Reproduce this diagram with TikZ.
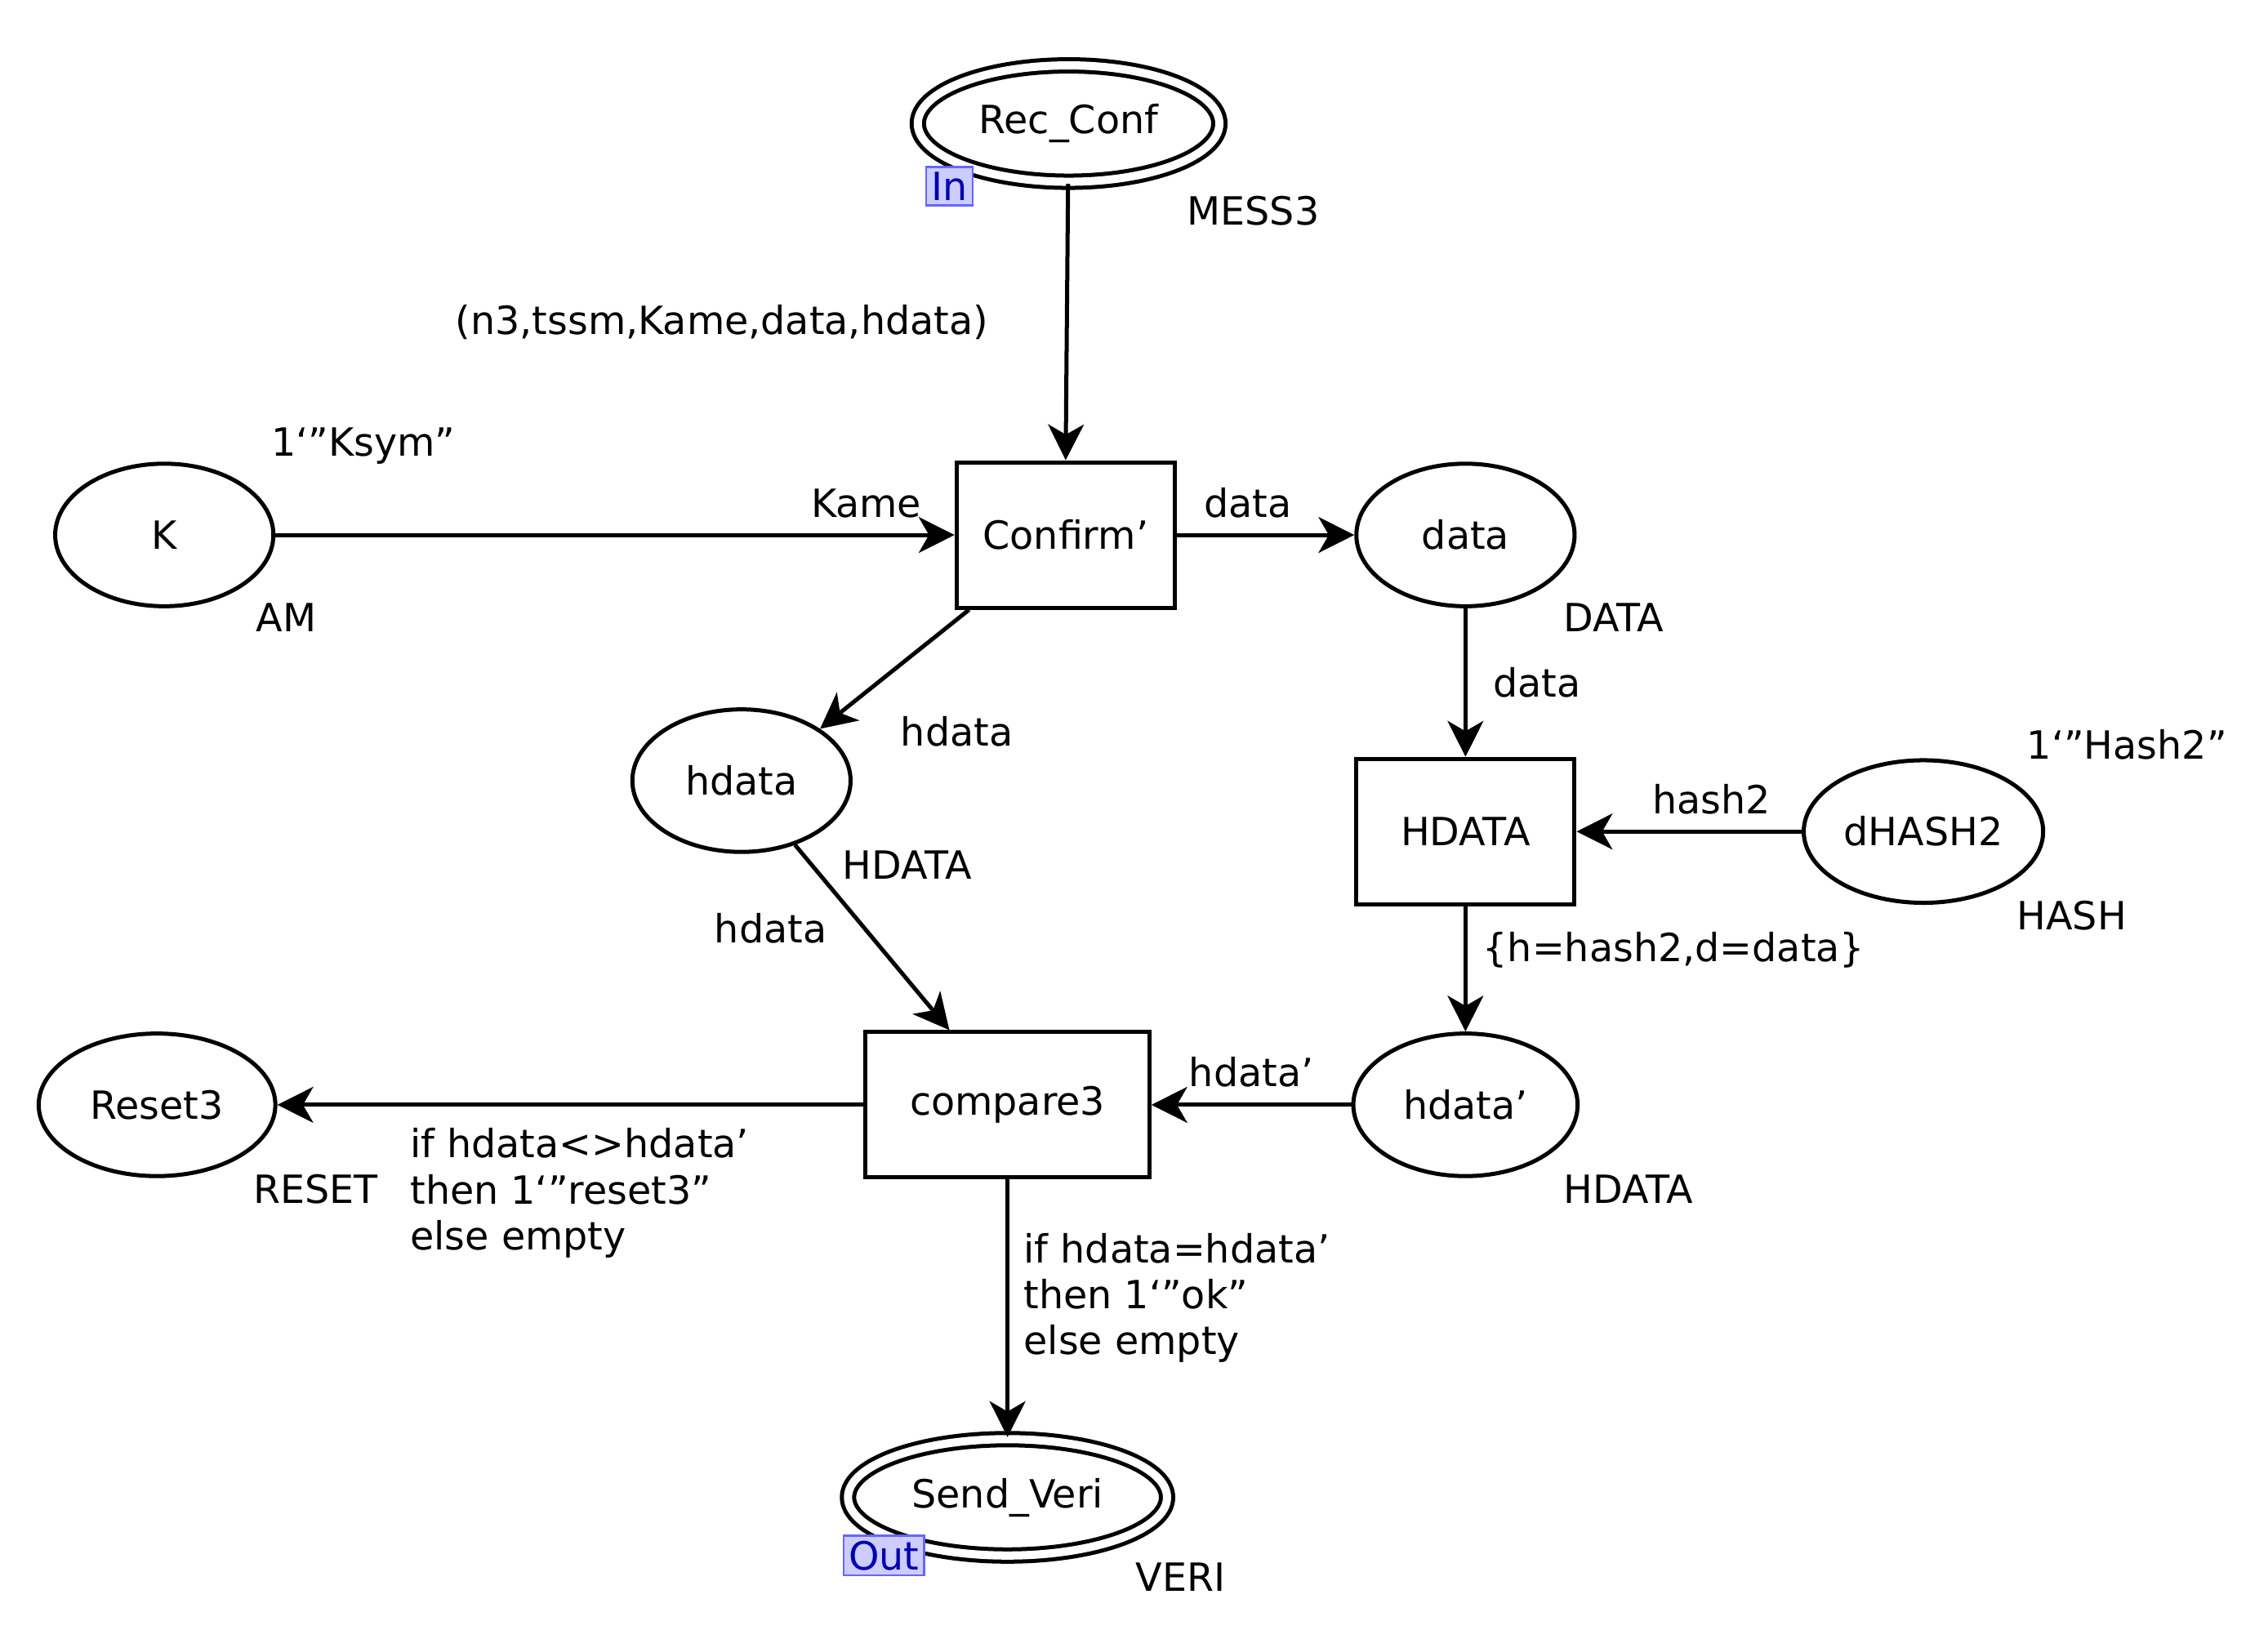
\documentclass[tikz,border=0pt]{standalone}
\usepackage{fontspec}
\setmainfont{DejaVu Sans}
\usetikzlibrary{arrows.meta,shapes.geometric}
\newcommand{\bq}{\symbol{96}}
\newcommand{\dq}{\symbol{34}}
\newcommand{\sq}{\symbol{39}}

\begin{document}
\begin{tikzpicture}[x=0.01cm,y=-0.01cm,
  every node/.style={font=\fontsize{7.6}{9}\selectfont},
  place/.style={draw, thick, ellipse, minimum width=1.5cm, minimum height=0.98cm},
  port_place/.style={place, double, double distance=1.6pt, minimum width=1.95cm, minimum height=0.8cm},
  trans/.style={draw, thick, rectangle, minimum width=1.5cm, minimum height=1cm},
  wide_trans/.style={trans, minimum width=1.95cm},
  tag/.style={draw=blue!60, fill=blue!20, text=blue!70!black, inner sep=1pt},
  lbl/.style={inner sep=1pt},
  arc/.style={draw, thick, -{Stealth[length=7pt,width=7pt,inset=2pt]}},
]
\useasboundingbox (0,0) rectangle (1560,1121);
% places
\node[port_place] (recconf) at (735,85) {Rec\_Conf};
\node[place] (k) at (113,368) {K};
\node[place] (data) at (1008,368) {data};
\node[place] (hdata) at (510,537) {hdata};
\node[place, inner sep=1pt] (dhash) at (1323,572) {dHASH2};
\node[place] (reset) at (108,760) {Reset3};
\node[place] (hdatap) at (1008,760) {hdata\sq};
\node[port_place] (sendveri) at (693,1030) {Send\_Veri};
% transitions
\node[trans] (confirm) at (733,368) {Confirm\sq};
\node[trans] (hdatat) at (1008,572) {HDATA};
\node[wide_trans] (compare) at (693,760) {compare3};
% port tags and types
\node[tag] (intag) at (653,128) {In};
\node[tag] (outtag) at (608,1070) {Out};
\node[lbl] (t1) at (862,145) {MESS3};
\node[lbl] (t2) at (197,425) {AM};
\node[lbl] (t3) at (250,307) {1\bq\dq Ksym\dq};
\node[lbl] (t4) at (1110,425) {DATA};
\node[lbl] (t5) at (624,595) {HDATA};
\node[lbl] (t6) at (1463,512) {1\bq\dq Hash2\dq};
\node[lbl] (t7) at (1425,630) {HASH};
\node[lbl] (t8) at (217,818) {RESET};
\node[lbl] (t9) at (1120,818) {HDATA};
\node[lbl] (t10) at (812,1085) {VERI};
% arcs
\draw[arc] (recconf) -- (confirm.north)
  node[lbl, pos=0.5, left=14pt] {(n3,tssm,Kame,data,hdata)};
\draw[arc] (k) -- (confirm) node[lbl, pos=0.87, above=2pt] {Kame};
\draw[arc] (confirm) -- (data) node[lbl, pos=0.4, above=2pt] {data};
\draw[arc] (confirm.south west) ++(10,0) coordinate (cs) (cs) -- (hdata.north east)
  node[lbl, pos=0.85, anchor=west, xshift=10pt, yshift=-4pt] {hdata};
\draw[arc] (data) -- (hdatat) node[lbl, midway, right=4pt] {data};
\draw[arc] (dhash) -- (hdatat) node[lbl, pos=0.4, above=2pt] {hash2};
\draw[arc] (hdatat) -- (hdatap) node[lbl, pos=0.35, right=2pt] {\{h=hash2,d=data\}};
\draw[arc] (hdata) -- (compare.north west -| 653,0)
  node[lbl, pos=0.45, left=6pt] {hdata};
\draw[arc] (hdatap) -- (compare) node[lbl, pos=0.5, above=2pt] {hdata\sq};
\draw[arc] (compare) -- (reset);
\node[lbl, align=left, anchor=north west] (c1) at (278,772)
  {if hdata<>hdata\sq\\then 1\bq\dq reset3\dq\\else empty};
\draw[arc] (compare) -- (sendveri);
\node[lbl, align=left, anchor=north west] (c2) at (700,844)
  {if hdata=hdata\sq\\then 1\bq\dq ok\dq\\else empty};
\end{tikzpicture}
\end{document}
